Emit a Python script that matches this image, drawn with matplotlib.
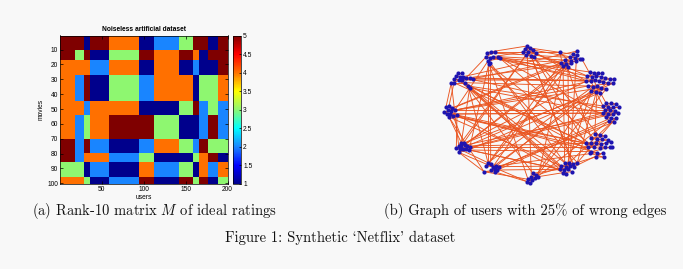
import numpy as np
import matplotlib
matplotlib.use("Agg")
import matplotlib.pyplot as plt
from matplotlib.collections import LineCollection
from matplotlib.colors import LinearSegmentedColormap

# ---------------- data: block-structured rating matrix ----------------
row_group_sizes = [10, 7, 10, 17, 10, 16, 9, 6, 10, 5]          # movies (100)
col_group_sizes = [18, 10, 8, 22, 36, 18, 30, 16, 7, 11, 12, 12]  # users (200)
block_values = [
    [5, 5, 1, 5, 4, 1, 2, 3, 5, 5, 1, 5],
    [5, 3, 5, 1, 3, 5, 4, 5, 4, 1, 5, 5],
    [4, 4, 4, 2, 4, 1, 4, 1, 2, 1, 1, 5],
    [4, 2, 5, 1, 3, 2, 4, 4, 1, 3, 3, 4],
    [4, 4, 2, 4, 4, 1, 1, 3, 5, 2, 3, 2],
    [4, 2, 3, 4, 5, 5, 3, 1, 1, 2, 5, 2],
    [5, 2, 5, 2, 1, 2, 4, 3, 2, 5, 3, 3],
    [5, 2, 4, 4, 2, 3, 1, 1, 3, 4, 5, 1],
    [3, 3, 1, 2, 1, 4, 2, 3, 1, 4, 2, 4],
    [4, 4, 3, 1, 2, 5, 1, 5, 3, 5, 1, 3],
]
x_ticks = [50, 100, 150, 200]
y_ticks = [10, 20, 30, 40, 50, 60, 70, 80, 90, 100]
cbar_ticks = [1, 1.5, 2, 2.5, 3, 3.5, 4, 4.5, 5]

# ---------------- data: user graph (node positions) ----------------
clusters = [
    # 0 top-left
    [(487.3, 52.7), (491.3, 51.7), (494.7, 52), (486.3, 56.7), (489.7, 57.7), (493, 56.7),
     (498, 56.7), (500, 58.3), (488, 61), (490.3, 62.7), (488.7, 64.3)],
    # 1 top
    [(527, 46), (525, 49), (530, 48), (523, 52), (528, 52), (533, 50), (536, 53),
     (526, 55), (531, 56), (534, 57)],
    # 2 top-right
    [(577.3, 51), (573, 54.3), (577.3, 55.3), (569.7, 56.7), (574.7, 57.7), (579.7, 58.7),
     (582, 59.3), (564.7, 60), (570.7, 61), (576.3, 61), (561.3, 62.7), (566.3, 64.3),
     (571.3, 63.3), (559.7, 52), (563, 66), (568, 66.7)],
    # 3 right-upper
    [(589.7, 72), (594, 72.7), (598, 73.3), (602, 73.3), (587.3, 76), (592, 76.7), (596.3, 76),
     (600.7, 76.7), (605.3, 77.7), (609.7, 78.7), (614, 79.3), (586.3, 81), (590.7, 81),
     (594.7, 80.3), (598.7, 81), (603, 82), (608, 82.7), (613, 83.3), (588, 86), (593, 86.7),
     (597.3, 86), (601.3, 87.7), (606.3, 88.7), (591.3, 91), (596.3, 92), (599.7, 92.7)],
    # 4 right
    [(606, 103), (611, 103), (616, 104), (603, 106), (608, 107), (613, 107), (619, 107),
     (605, 110), (610, 110), (615, 111), (603, 113), (608, 114), (613, 114), (618, 113),
     (606, 117), (611, 118), (616, 118), (609, 121), (614, 122)],
    # 5 right-lower
    [(594.7, 134), (599.7, 135), (604.7, 136), (591.3, 138.3), (597.3, 139.3), (602, 139.3),
     (608, 140), (586.3, 143.3), (591.3, 143.3), (596.3, 143.3), (601.3, 144), (606.3, 143.3),
     (610.7, 141.7), (588, 147.3), (594, 147.3), (599.7, 148.3), (604.7, 147.3), (609.7, 147.3),
     (612, 146.7), (591.3, 151.7), (597.3, 152.7), (603, 152.7), (596.3, 156.7), (604, 157.3),
     (589.7, 153.3)],
    # 6 bottom-right
    [(564.7, 162.7), (568.7, 163.3), (573, 164), (577.3, 162.7), (561.3, 166), (566.3, 166.7),
     (569.7, 166), (574, 166.7), (559.7, 169.3), (564, 170), (568, 169.3), (572, 171.7),
     (563, 172.7), (566.3, 174)],
    # 7 bottom
    [(533, 173.3), (536.3, 175), (531.3, 176.7), (538, 176.7), (534.7, 178.3), (528, 179.3),
     (532, 180), (527.3, 181.7), (529.7, 182.7)],
    # 8 bottom-left
    [(488, 162.7), (490.7, 164), (486.3, 166), (493, 166.7), (496.3, 166), (498.7, 166.7),
     (494.7, 169.3), (491.3, 170), (497.3, 170), (484, 171.7), (495.3, 172)],
    # 9 left-lower
    [(461.3, 142.7), (464, 143.3), (458.7, 146), (461.3, 146), (464.7, 145), (467.3, 146),
     (469.7, 147.3), (456.3, 148.3), (459.7, 149.3), (463, 149.3), (466.3, 149.3),
     (468.7, 150), (458.7, 152.3)],
    # 10 left
    [(446, 107), (449, 106), (452, 108), (448, 110), (451, 111), (455, 110), (444, 112),
     (447, 114), (450, 114), (453, 116), (457, 115), (449, 117)],
    # 11 upper-left
    [(458, 72.7), (462, 72.7), (456.3, 76), (459.7, 76.7), (463, 76.7), (466.3, 77.7),
     (469.7, 77.7), (473, 78.7), (454, 78.7), (458.7, 80), (462, 80), (451.3, 82.7),
     (454, 82.7), (464.7, 82.7), (468, 86), (469.7, 87.7)],
]

# wrong (between-cluster) edges: (cluster, node, cluster, node)
cross_edges = [
    (0, 6, 2, 7), (0, 7, 2, 10), (0, 2, 2, 13), (0, 5, 1, 3), (0, 1, 1, 0), (0, 7, 3, 11),
    (0, 6, 3, 4), (0, 4, 3, 0), (1, 5, 2, 3), (1, 6, 3, 11), (1, 4, 2, 10),
    (11, 7, 2, 7), (11, 6, 2, 12), (11, 5, 3, 11), (11, 7, 3, 12), (11, 13, 3, 18),
    (11, 14, 4, 3), (11, 15, 4, 10), (11, 4, 2, 0), (11, 12, 5, 7), (11, 15, 6, 4),
    (11, 14, 6, 8), (11, 13, 6, 0), (11, 10, 7, 0),
    (10, 5, 4, 7), (10, 9, 5, 13), (10, 10, 5, 7), (10, 5, 3, 18), (10, 2, 2, 10),
    (10, 11, 6, 4), (10, 8, 4, 13),
    (9, 6, 5, 13), (9, 11, 5, 19), (9, 5, 5, 8), (9, 6, 4, 10), (9, 1, 3, 22), (9, 4, 2, 11),
    (9, 10, 6, 8), (9, 11, 6, 9), (9, 3, 1, 7), (9, 12, 7, 7),
    (8, 5, 6, 4), (8, 8, 6, 8), (8, 0, 3, 19), (8, 3, 2, 14), (8, 4, 5, 20), (8, 6, 4, 15),
    (8, 9, 7, 5), (8, 10, 7, 7), (8, 0, 0, 8),
    (7, 0, 6, 8), (7, 3, 6, 12), (7, 1, 3, 23), (7, 2, 5, 22),
    (6, 0, 2, 14), (6, 1, 2, 15), (6, 2, 1, 8), (6, 3, 3, 24), (6, 7, 5, 21), (6, 0, 0, 9),
    (6, 3, 0, 10), (6, 1, 4, 16),
    (2, 6, 4, 0), (2, 11, 5, 3), (3, 20, 5, 0), (3, 12, 4, 3), (4, 16, 6, 3),
    (10, 0, 11, 11), (10, 1, 11, 12), (10, 11, 9, 0), (10, 9, 9, 1), (9, 7, 10, 10),
    (9, 12, 8, 9), (9, 8, 8, 0), (11, 15, 9, 0), (11, 14, 8, 0), (0, 8, 10, 5),
    (0, 3, 11, 5), (0, 10, 9, 6), (0, 9, 8, 1),
    (1, 8, 6, 2), (1, 9, 5, 5), (2, 15, 8, 2), (2, 14, 7, 3), (3, 21, 10, 6), (3, 17, 9, 5),
    (4, 13, 10, 8), (4, 18, 8, 5), (5, 16, 10, 9), (5, 19, 11, 13), (0, 10, 5, 14),
    (1, 7, 9, 2), (2, 8, 10, 3), (4, 11, 9, 3), (3, 16, 8, 3),
    (0, 0, 2, 4), (0, 3, 3, 13), (1, 2, 2, 1), (1, 1, 3, 4), (11, 9, 3, 13), (11, 3, 4, 8),
    (11, 8, 5, 14), (10, 4, 3, 12), (10, 6, 5, 20), (10, 3, 6, 12), (9, 2, 3, 11),
    (9, 9, 4, 12), (8, 2, 2, 10), (8, 7, 3, 20), (7, 4, 3, 22), (7, 8, 4, 17), (6, 5, 3, 23),
    (6, 9, 11, 9), (5, 10, 0, 7), (5, 13, 1, 9), (4, 14, 0, 6), (4, 17, 8, 8), (3, 25, 9, 11),
    (2, 12, 9, 4), (2, 9, 6, 6), (1, 0, 7, 2), (0, 8, 7, 5), (11, 11, 9, 2), (10, 7, 8, 9),
]

caption_a = r"(a) Rank-10 matrix $M$ of ideal ratings"
caption_b = "(b) Graph of users with 25% of wrong edges"
fig_caption = "Figure 1: Synthetic `Netflix' dataset"

# ---------------- figure ----------------
plt.rcParams["mathtext.fontset"] = "cm"
W, H = 683, 269
bg = "#f8f8f8"
fig = plt.figure(figsize=(W / 100, H / 100), dpi=100, facecolor=bg)

def fbox(x0, y0, x1, y1):
    return [x0 / W, 1 - y1 / H, (x1 - x0) / W, (y1 - y0) / H]

small = dict(family="Liberation Sans", fontsize=4.8)

jet_like = LinearSegmentedColormap.from_list("jet_like", [
    (0.0, (0.0, 0.0, 0.55)), (0.125, (0.0, 0.0, 1.0)), (0.25, (0.1, 0.52, 1.0)),
    (0.375, (0.0, 1.0, 1.0)), (0.5, (0.55, 0.97, 0.45)), (0.625, (1.0, 1.0, 0.0)),
    (0.75, (1.0, 0.45, 0.0)), (0.875, (1.0, 0.0, 0.0)), (1.0, (0.5, 0.0, 0.0))])

# heatmap
M = np.repeat(np.repeat(np.array(block_values), row_group_sizes, axis=0), col_group_sizes, axis=1)
ax = fig.add_axes(fbox(60, 35.5, 228, 184))
im = ax.imshow(M, cmap=jet_like, vmin=1, vmax=5, aspect="auto", interpolation="nearest",
               extent=(0.5, M.shape[1] + 0.5, M.shape[0] + 0.5, 0.5))
ax.set_xticks(x_ticks)
ax.set_yticks(y_ticks)
ax.set_xticklabels([str(t) for t in x_ticks], **small)
ax.set_yticklabels([str(t) for t in y_ticks], **small)
ax.tick_params(direction="in", length=2, width=0.5, pad=1.5, top=True, right=True)
for s in ax.spines.values():
    s.set_linewidth(0.5)
ax.set_title("Noiseless artificial dataset", pad=3, fontweight="bold", **small)
ax.set_xlabel("users", labelpad=0.5, **small)
ax.set_ylabel("movies", labelpad=2, **small)

cax = fig.add_axes(fbox(233, 35.5, 241, 184))
cb = fig.colorbar(im, cax=cax, ticks=cbar_ticks)
cb.ax.set_yticklabels([("%g" % t) for t in cbar_ticks], **small)
cb.ax.tick_params(direction="in", length=1.5, width=0.5, pad=1.5)
cb.outline.set_linewidth(0.5)

# graph
gx = fig.add_axes(fbox(430, 30, 630, 195))
gx.set_xlim(430, 630)
gx.set_ylim(195, 30)
gx.axis("off")
segs = []
for cl in clusters:
    for a, b in zip(cl[:-1], cl[1:]):
        segs.append([a, b])
for ci, ni, cj, nj in cross_edges:
    segs.append([clusters[ci][ni], clusters[cj][nj]])
gx.add_collection(LineCollection(segs, colors="#ea5520", linewidths=0.65, zorder=1))
allx = [p[0] for cl in clusters for p in cl]
ally = [p[1] for cl in clusters for p in cl]
gx.plot(allx, ally, "o", color="#1e14b0", markersize=3.0, markeredgewidth=0, zorder=2)

# captions
cap = dict(family="cmr10", fontsize=10.5, color="#111111", ha="center", va="center")
fig.text(154 / W, 1 - 211 / H, caption_a, **cap)
fig.text(525 / W, 1 - 211 / H, caption_b, **cap)
fig.text(340 / W, 1 - 238 / H, fig_caption, **cap)

fig.savefig("out.png", dpi=100, facecolor=bg)
